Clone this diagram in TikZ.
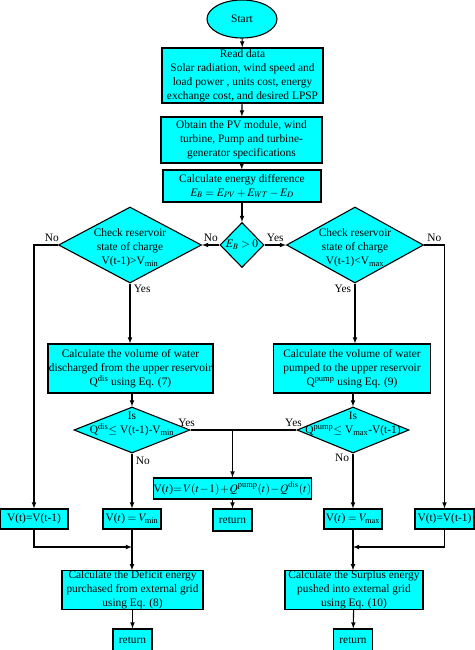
\documentclass[tikz,border=0pt]{standalone}
\usepackage{mathptmx}
\usepackage{fontspec}
\setmainfont{Liberation Serif}
\usetikzlibrary{shapes.geometric}
\definecolor{aqua}{RGB}{0,255,255}
\tikzstyle{block} = [rectangle, draw, fill=aqua, inner sep=0pt, align=center]
\tikzstyle{decision} = [diamond, draw, fill=aqua, inner sep=0pt]
\tikzstyle{terminal} = [ellipse, draw, fill=aqua, inner sep=0pt]

\begin{document}
\begin{tikzpicture}[x=1pt, y=-1pt, >=latex, line width=1.1pt,
    font=\fontsize{11.4}{14}\selectfont]
        \useasboundingbox (0,0) rectangle (474,650);
        % main column
        \node[terminal, minimum width=70pt, minimum height=38pt] (start) at (242,19) {Start};
        \node[block, minimum width=161pt, minimum height=55pt] (read) at (242.5,75.5)
            {Read data\\Solar radiation, wind speed and\\load power , units cost, energy\\exchange cost, and desired LPSP};
        \node[block, minimum width=161pt, minimum height=46pt] (obtain) at (241.5,140)
            {Obtain the PV module, wind\\turbine, Pump and turbine-\\generator specifications};
        \node[block, minimum width=158pt, minimum height=32pt] (energy) at (242,186)
            {Calculate energy difference\\$E_B=E_{PV}+E_{WT}-E_D$};
        \node[decision, minimum width=44pt, minimum height=45pt, label={center:$E_B>0$}] (eb) at (242,245) {};

        % reservoir checks
        \node[decision, minimum width=143pt, minimum height=76pt,
            label={[align=center, yshift=-3pt]center:Check reservoir\\state of charge\\V(t-1)>V\textsubscript{min}}] (chkL) at (130,245) {};
        \node[decision, minimum width=137pt, minimum height=76pt,
            label={[align=center, yshift=-3pt]center:Check reservoir\\state of charge\\V(t-1)<V\textsubscript{max}}] (chkR) at (355,245) {};
        \node[block, minimum width=165pt, minimum height=49pt] (calcL) at (130.5,368.5)
            {Calculate the volume of water\\discharged from the upper reservoir\\Q\textsuperscript{dis} using Eq. (7)};
        \node[block, minimum width=157pt, minimum height=49pt] (calcR) at (352,368.5)
            {Calculate the volume of water\\pumped to the upper reservoir\\Q\textsuperscript{pump} using Eq. (9)};
        \node[decision, minimum width=116pt, minimum height=46pt,
            label={[align=center, yshift=6pt]center:Is\\Q\textsuperscript{dis}$\le$ V(t-1)-V\textsubscript{min}}] (isL) at (132,430) {};
        \node[decision, minimum width=112pt, minimum height=46pt,
            label={[align=center, yshift=6pt]center:Is\\Q\textsuperscript{pump}$\le$ V\textsubscript{max}-V(t-1)}] (isR) at (353,430) {};

        % volume updates
        \node[block, minimum width=157pt, minimum height=21pt] (upd) at (232.5,488.5)
            {\thickmuskip=2mu\medmuskip=1mu V($t$)$=V(t-1)+Q^{\mathrm{pump}}(t)-Q^{\mathrm{dis}}(t)$};
        \node[block, minimum width=39pt, minimum height=22pt] (ret0) at (232.5,520) {return};
        \node[block, minimum width=68pt, minimum height=20pt] (keepL) at (34,519) {V(t)=V(t-1)};
        \node[block, minimum width=58pt, minimum height=20pt] (vmin) at (132,519) {V($t$)$\;=V_{\mathrm{min}}$};
        \node[block, minimum width=58pt, minimum height=20pt] (vmax) at (353,519) {V($t$)$\;=V_{\mathrm{max}}$};
        \node[block, minimum width=59pt, minimum height=20pt] (keepR) at (444.5,519) {V(t)=V(t-1)};
        \coordinate (mergeL) at (132,547);
        \coordinate (mergeR) at (353,547);

        % grid exchange
        \node[block, minimum width=141pt, minimum height=38pt] (deficit) at (132.5,590)
            {Calculate the Deficit energy\\purchased from external grid\\using Eq. (8)};
        \node[block, minimum width=138pt, minimum height=38pt] (surplus) at (354,590)
            {Calculate the Surplus energy\\pushed into external grid\\using Eq. (10)};
        \node[block, minimum width=39pt, minimum height=22pt] (retL) at (132.5,640) {return};
        \node[block, minimum width=39pt, minimum height=22pt] (retR) at (353,640) {return};

        \draw[->] (start) -- (read);
        \draw[->] (read) -- (obtain);
        \draw[->] (obtain) -- (energy);
        \draw[->] (energy) -- (eb);
        \draw[->] (eb.west) -- node[midway, anchor=south]{No} (chkL.east);
        \draw[->] (eb.east) -- node[midway, anchor=south]{Yes} (chkR.west);
        \draw[->] (chkL.west) -- node[pos=0.25, anchor=south]{No} (chkL.west -| keepL.north) -- (keepL.north);
        \draw[->] (chkR.east) -- node[midway, anchor=south]{No} (chkR.east -| keepR.north) -- (keepR.north);
        \draw[->] (chkL.south) -- node[pos=0.08, anchor=west]{Yes} (chkL.south |- calcL.north);
        \draw[->] (chkR.south) -- node[pos=0.08, anchor=east]{Yes} (chkR.south |- calcR.north);
        \draw[->] (calcL.south -| isL.north) -- (isL.north);
        \draw[->] (calcR.south -| isR.north) -- (isR.north);
        \draw (isL.east) node[anchor=south, xshift=-4pt]{Yes} -- (isR.west) node[anchor=south, xshift=-3pt]{Yes};
        \draw[->] (upd.north |- isL.east) -- (upd.north);
        \draw[->] (isL.south) -- node[pos=0.13, anchor=west]{No} (vmin.north);
        \draw[->] (isR.south) -- node[pos=0.08, anchor=east]{No} (vmax.north);
        \draw[->] (upd) -- (ret0);
        \draw[->] (keepL.south) |- (mergeL);
        \draw[->] (keepR.south) |- (mergeR);
        \draw[->] (vmin.south) -- (vmin.south |- deficit.north);
        \draw[->] (vmax.south) -- (vmax.south |- surplus.north);
        \draw[->] (deficit) -- (retL);
        \draw[->] (surplus) -- (retR);
    \end{tikzpicture}
\end{document}
